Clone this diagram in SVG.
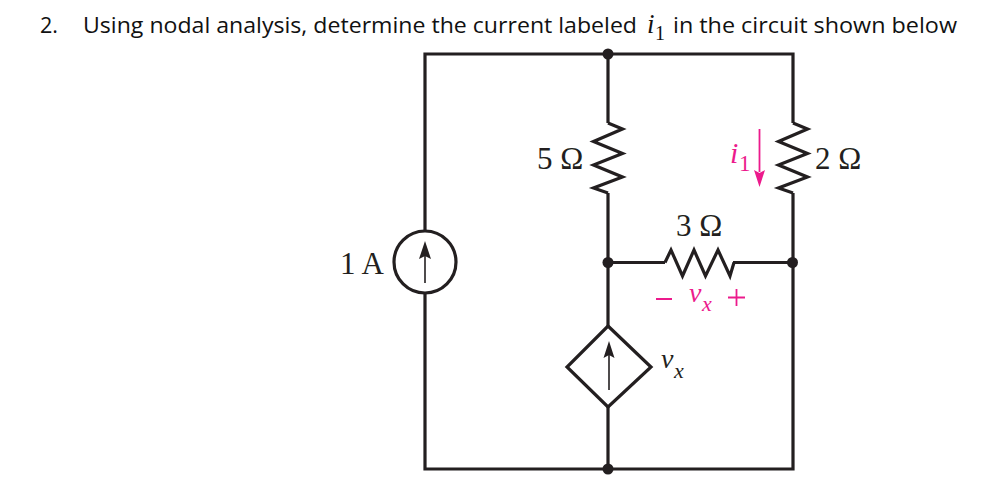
<svg xmlns="http://www.w3.org/2000/svg" width="1007" height="481" viewBox="0 0 1007 481">
<style>
.w{fill:none;stroke:#231f20;stroke-width:3.2;stroke-linejoin:miter}
.d{fill:#231f20;stroke:none}
.t{font-family:"Open Sans","Liberation Sans",sans-serif;font-size:22.5px;fill:#111}
.s{font-family:"Liberation Serif",serif;font-size:31px;fill:#231f20}
.m{font-family:"Liberation Serif",serif;font-style:italic;fill:#231f20}
.p{fill:#ec1a8c}
.ps{stroke:#ec1a8c;fill:none;stroke-width:1.8}
.a{stroke:#231f20;stroke-width:1.6;fill:none}
</style>
<rect width="1007" height="481" fill="#fff"/>
<g id="title">
<text class="t" x="40" y="33" textLength="18" lengthAdjust="spacingAndGlyphs">2.</text>
<text class="t" x="83" y="33" textLength="554" lengthAdjust="spacingAndGlyphs">Using nodal analysis, determine the current labeled</text>
<text x="647" y="33" font-family="Liberation Serif,serif" font-style="italic" font-size="27" fill="#111">i</text>
<text x="655" y="40" font-family="Liberation Serif,serif" font-size="20" fill="#111">1</text>
<text class="t" x="673" y="33" textLength="284" lengthAdjust="spacingAndGlyphs">in the circuit shown below</text>
</g>
<g id="connectors">
<path class="w" d="M425 230V54H793V123M425 294V469H608M608 54V123M608 193V326M608 407V469M608 469H793V193"/>
<path class="w" d="M608 262.500H665M733 262.500H793"/>
</g>
<g id="junctions">
<circle class="d" cx="608" cy="54" r="5.500"/>
<circle class="d" cx="608" cy="262.500" r="5.500"/>
<circle class="d" cx="792.500" cy="262.500" r="5.500"/>
<circle class="d" cx="608" cy="469" r="5.500"/>
</g>
<g id="source-1A">
<circle class="w" cx="425" cy="262" r="31" fill="#fff"/>
<path class="a" d="M425 283V246"/>
<path class="d" d="M425 241L431 259L425 256L419 259Z"/>
<text class="s" x="340" y="274">1 A</text>
</g>
<g id="resistor-5">
<path class="w" d="M608 123L622.500 129L593.500 141.500L622.500 153.500L593.500 165L622.500 177L593.500 188L608 193"/>
<text class="s" x="537" y="169">5 Ω</text>
</g>
<g id="resistor-2">
<path class="w" d="M793 123L807.500 129L778.500 141.500L807.500 153.500L778.500 165L807.500 177L778.500 188L793 193"/>
<text class="s" x="815" y="169">2 Ω</text>
</g>
<g id="resistor-3">
<path class="w" d="M665 262.500L671 250L682.500 276L694 250L705.500 276L718 250L730 276L734 262.500"/>
<text class="s" x="676" y="236">3 Ω</text>
</g>
<g id="dependent-source">
<path class="w" d="M608 326L651 367L608 407L567 367Z"/>
<path class="a" d="M609 390V350"/>
<path class="d" d="M609 341L614.500 358L609 355L603.500 358Z"/>
<text class="m" x="661" y="368" font-size="28">v</text>
<text class="m" x="674" y="378" font-size="22">x</text>
</g>
<g id="label-vx">
<path class="ps" d="M656 299H672M728 297.500H745M736.500 289V306"/>
<text class="m p" x="689" y="302" font-size="28">v</text>
<text class="m p" x="702" y="311" font-size="22">x</text>
</g>
<g id="label-i1">
<path class="ps" d="M759.500 129V172"/>
<path class="p" d="M759.500 187L754 170L759.500 173L765 170Z"/>
<text class="m p" x="730" y="163" font-size="30">i</text>
<text class="p" x="739" y="171" font-family="Liberation Serif,serif" font-size="23">1</text>
</g>
</svg>
